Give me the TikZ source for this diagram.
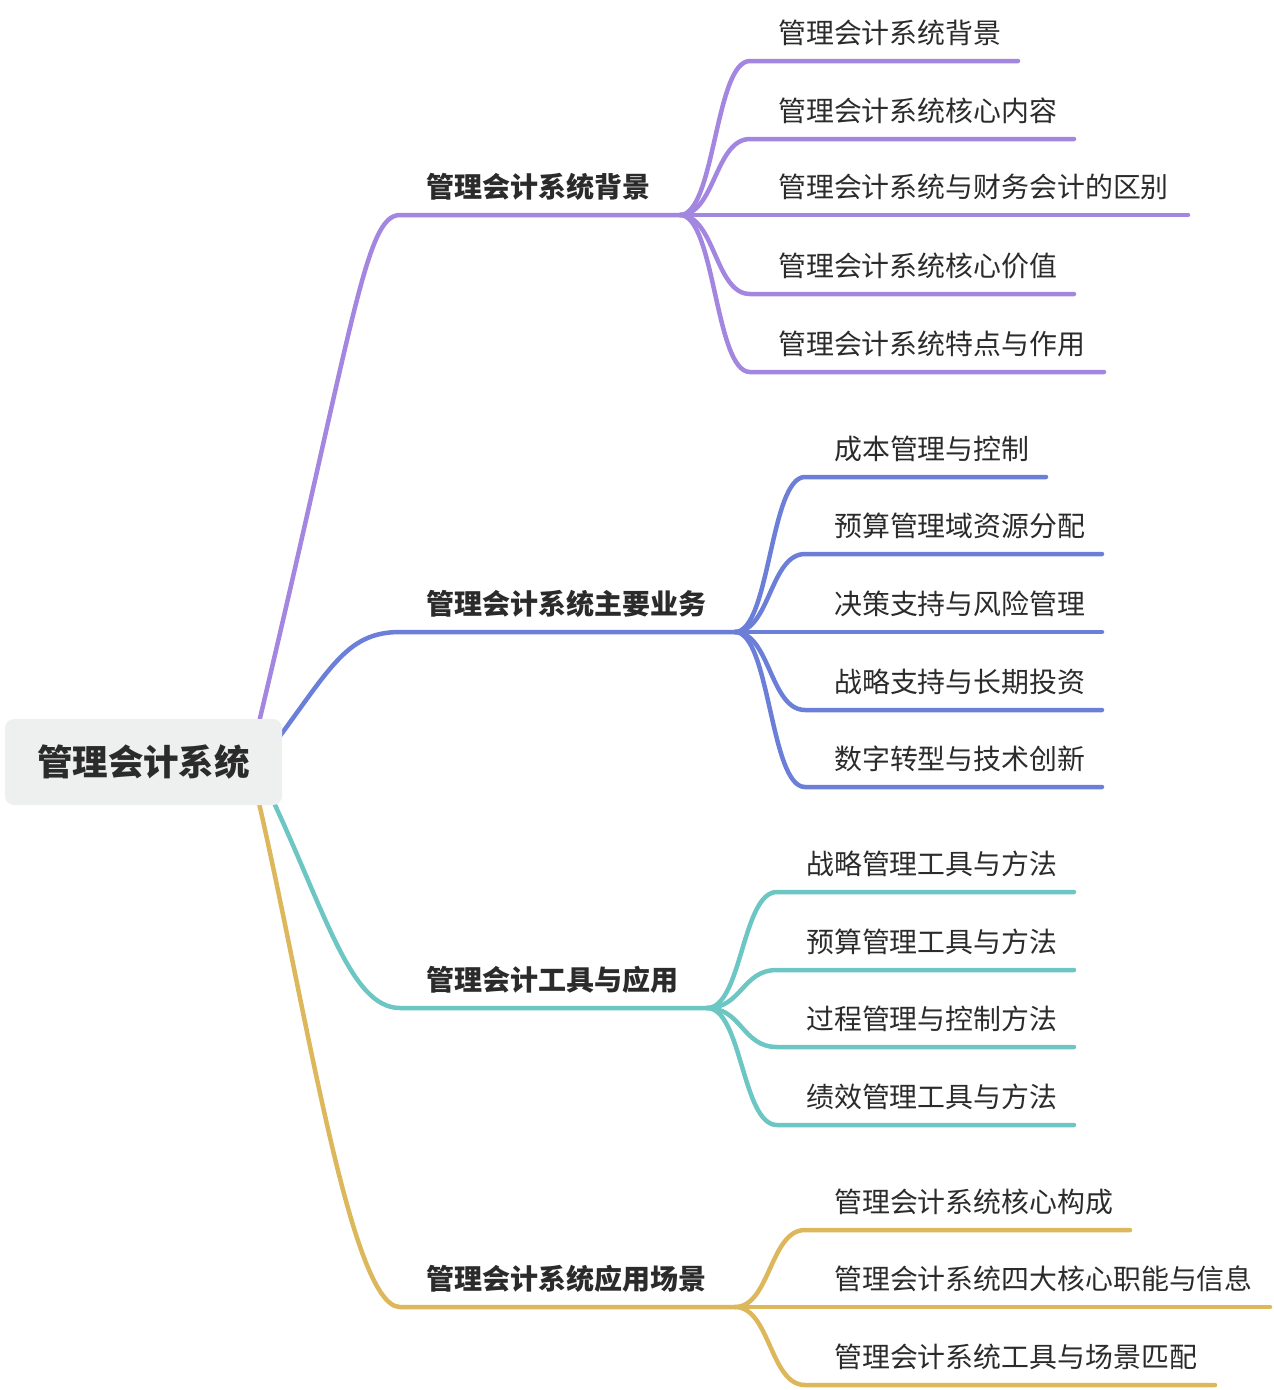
\documentclass[tikz,border=0pt]{standalone}
\usepackage{fontspec}
\setmainfont{Noto Sans CJK SC}
\definecolor{cpurple}{HTML}{A386DF}
\definecolor{cblue}{HTML}{6B7FD8}
\definecolor{cteal}{HTML}{6CC6C3}
\definecolor{cyellow}{HTML}{DDB75B}
\definecolor{rootfill}{HTML}{EEF0F0}
\definecolor{txt}{HTML}{2B2B2B}
\tikzset{
  branchline/.style={line width=4.5pt, line cap=round, line join=round},
  childtxt/.style={anchor=base west, inner sep=0pt, text=txt, font=\fontsize{27.9}{33}\selectfont},
  branchtxt/.style={anchor=base west, inner sep=0pt, text=txt, font=\fontsize{28}{34}\selectfont\bfseries},
  roottxt/.style={fill=rootfill, rounded corners=9pt, minimum width=277pt, minimum height=86pt, inner sep=0pt, text=txt, font=\fontsize{35.5}{42}\selectfont\bfseries}
}
\begin{document}
\begin{tikzpicture}[x=1pt,y=-1pt]
\useasboundingbox (0,0) rectangle (1274,1390);

% ---------- branch 1 (purple)
\coordinate (s1) at (256,735);
\coordinate (b1) at (400,215);
\coordinate (j1) at (680,215);
\draw[branchline, cpurple] (s1) .. controls (355,320) and (365,215) .. (b1) -- (j1);
\node[branchtxt] (B1) at (426,197.5) {管理会计系统背景};
\foreach \n/\y/\e/\t in {1/61/1018/管理会计系统背景, 2/139/1074/管理会计系统核心内容, 4/294/1074/管理会计系统核心价值, 5/372/1104/管理会计系统特点与作用}{
  \coordinate (e1\n) at (\e,\y);
  \draw[branchline, cpurple] (j1) .. controls (715,215) and (715,\y) .. (750,\y) -- (e1\n);
  \node[childtxt] (c1\n) at (778,\y-18) {\t};
}
\coordinate (e13) at (1188,215);
\draw[branchline, cpurple] (j1) -- (e13);
\node[childtxt] (c13) at (778,215-18) {管理会计系统与财务会计的区别};

% ---------- branch 2 (blue)
\coordinate (s2) at (268,752);
\coordinate (b2) at (400,632);
\coordinate (j2) at (735,632);
\draw[branchline, cblue] (s2) .. controls (330,670) and (345,632) .. (b2) -- (j2);
\node[branchtxt] (B2) at (426,614.5) {管理会计系统主要业务};
\foreach \n/\y/\e/\t in {1/477/1046/成本管理与控制, 2/554/1102/预算管理域资源分配, 4/710/1102/战略支持与长期投资, 5/787/1102/数字转型与技术创新}{
  \coordinate (e2\n) at (\e,\y);
  \draw[branchline, cblue] (j2) .. controls (770,632) and (770,\y) .. (805,\y) -- (e2\n);
  \node[childtxt] (c2\n) at (834,\y-18) {\t};
}
\coordinate (e23) at (1102,632);
\draw[branchline, cblue] (j2) -- (e23);
\node[childtxt] (c23) at (834,632-18) {决策支持与风险管理};

% ---------- branch 3 (teal)
\coordinate (s3) at (268,790);
\coordinate (b3) at (400,1008);
\coordinate (j3) at (707,1008);
\draw[branchline, cteal] (s3) .. controls (325,910) and (350,1008) .. (b3) -- (j3);
\node[branchtxt] (B3) at (426,990.5) {管理会计工具与应用};
\foreach \n/\y/\e/\t in {1/892/1074/战略管理工具与方法, 2/970/1074/预算管理工具与方法, 3/1047/1074/过程管理与控制方法, 4/1125/1074/绩效管理工具与方法}{
  \coordinate (e3\n) at (\e,\y);
  \draw[branchline, cteal] (j3) .. controls (742,1008) and (742,\y) .. (777,\y) -- (e3\n);
  \node[childtxt] (c3\n) at (806,\y-18) {\t};
}

% ---------- branch 4 (yellow)
\coordinate (s4) at (256,790);
\coordinate (b4) at (400,1307);
\coordinate (j4) at (735,1307);
\draw[branchline, cyellow] (s4) .. controls (305,1000) and (350,1307) .. (b4) -- (j4);
\node[branchtxt] (B4) at (426,1289.5) {管理会计系统应用场景};
\foreach \n/\y/\e/\t in {1/1230/1130/管理会计系统核心构成, 3/1385/1215/管理会计系统工具与场景匹配}{
  \coordinate (e4\n) at (\e,\y);
  \draw[branchline, cyellow] (j4) .. controls (770,1307) and (770,\y) .. (805,\y) -- (e4\n);
  \node[childtxt] (c4\n) at (834,\y-18) {\t};
}
\coordinate (e42) at (1270,1307);
\draw[branchline, cyellow] (j4) -- (e42);
\node[childtxt] (c42) at (834,1307-18) {管理会计系统四大核心职能与信息};

% ---------- root
\node[roottxt] (root) at (143.5,762) {管理会计系统};
\end{tikzpicture}
\end{document}
